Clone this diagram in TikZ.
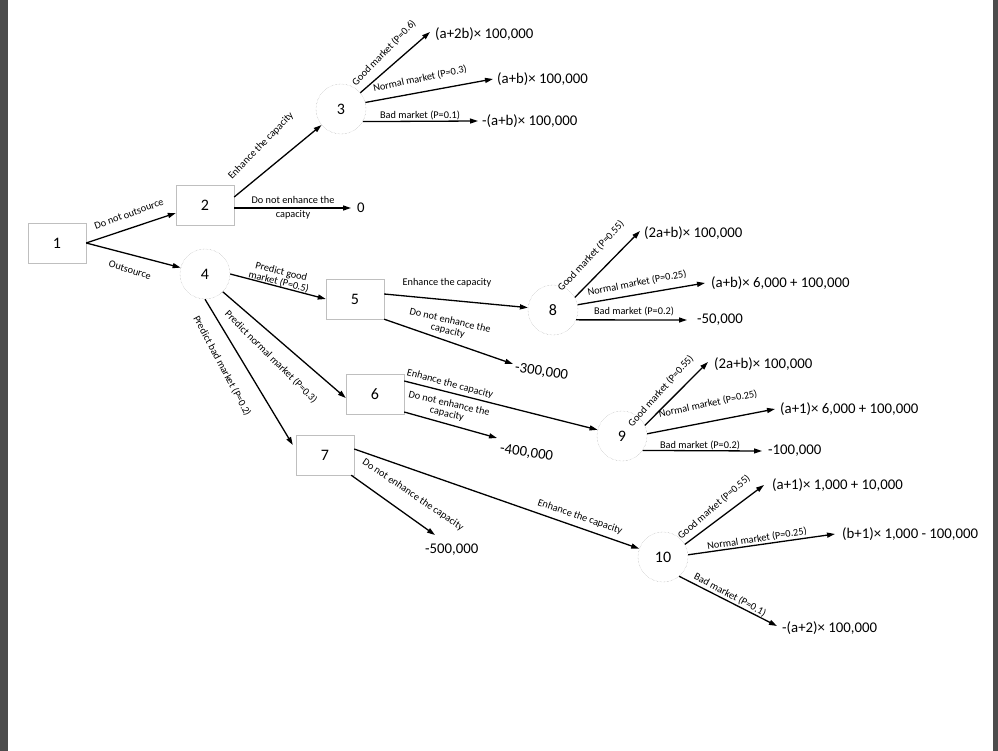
\documentclass[tikz,border=0pt]{standalone}
\usepackage{fontspec}
\setmainfont{Carlito}
\usetikzlibrary{arrows.meta}
\begin{document}
\begin{tikzpicture}[x=1pt,y=-1pt,
  boxn/.style={draw=black!25,minimum width=58pt,minimum height=40pt,font=\fontsize{16}{16}\selectfont,inner sep=0},
  circn/.style={circle,draw=black!35,densely dotted,minimum size=50pt,font=\fontsize{16}{16}\selectfont,inner sep=0},
  outc/.style={anchor=west,font=\fontsize{14.8}{14.8}\selectfont,inner sep=0},
  arr/.style={-{Triangle[length=8pt,width=5pt]},line width=1.3pt},
  lbl/.style={font=\fontsize{10.3}{10.3}\selectfont,align=center,inner sep=0}]
\useasboundingbox (0,0) rectangle (998,751);
\fill[black!70] (0,0) rectangle (8,751);
\fill[black!70] (993,0) rectangle (998,751);
% nodes
\node[boxn] (n1) at (57,243) {1};
\node[boxn] (n2) at (205,205) {2};
\node[circn] (n3) at (341,109) {3};
\node[circn] (n4) at (205,274) {4};
\node[boxn] (n5) at (355,299) {5};
\node[boxn] (n6) at (375,394) {6};
\node[boxn] (n7) at (325,455) {7};
\node[circn] (n8) at (553,310) {8};
\node[circn] (n9) at (622,436) {9};
\node[circn] (n10) at (663,557) {10};
% outcomes
\node[outc] (o0) at (357,208) {0};
\node[outc] (o31) at (435,34) {(a+2b)× 100,000};
\node[outc] (o32) at (497,79) {(a+b)× 100,000};
\node[outc] (o33) at (482,121) {-(a+b)× 100,000};
\node[outc,rotate=-8] (o5) at (515,368) {-300,000};
\node[outc,rotate=-8] (o6) at (500,449) {-400,000};
\node[outc] (o7) at (425,550) {-500,000};
\node[outc] (o81) at (644,233) {(2a+b)× 100,000};
\node[outc] (o82) at (711,283) {(a+b)× 6,000 + 100,000};
\node[outc] (o83) at (697,320) {-50,000};
\node[outc] (o91) at (714,364) {(2a+b)× 100,000};
\node[outc] (o92) at (780,409) {(a+1)× 6,000 + 100,000};
\node[outc] (o93) at (768,451) {-100,000};
\node[outc] (o101) at (772,485) {(a+1)× 1,000 + 10,000};
\node[outc] (o102) at (842,534) {(b+1)× 1,000 - 100,000};
\node[outc] (o103) at (782,628) {-(a+2)× 100,000};
\coordinate (e5) at (513,364);
\coordinate (e6) at (497,438);
\coordinate (e7) at (435,535);
\coordinate (e103) at (777,626);
% connectors
\draw[arr] (n1.east) -- ([yshift=-8pt]n2.west);
\draw[arr] (n1.east) -- (n4);
\draw[arr] ([yshift=8pt]n2.east) -- (n3);
\draw[arr] ([yshift=-3pt]n2.east) -- ([xshift=-6pt]o0.west);
\draw[arr] (n3.40) -- ([xshift=-5pt,yshift=2pt]o31.west);
\draw[arr] (n3.15) -- ([xshift=-4pt]o32.west);
\draw[arr] (n3.-30) -- ([xshift=-4pt]o33.west);
\draw[arr] (n4.east) -- (n5.west);
\draw[arr] (n4.-45) -- ([yshift=-4pt]n6.west);
\draw[arr] (n4.-90) -- ([xshift=-3pt,yshift=10pt]n7.west);
\draw[arr] ([yshift=5pt]n5.east) -- (n8);
\draw[arr] (n5.south east) -- (e5);
\draw[arr] ([yshift=13pt]n6.east) -- (n9);
\draw[arr] ([yshift=-18pt]n6.east) -- (e6);
\draw[arr] ([yshift=6pt]n7.east) -- (n10);
\draw[arr] ([xshift=-3pt]n7.south east) -- (e7);
\draw[arr] (n8.30) -- ([xshift=-4pt,yshift=2pt]o81.west);
\draw[arr] (n8.12) -- ([xshift=-6pt]o82.west);
\draw[arr] (n8.-23) -- ([xshift=-10pt]o83.west);
\draw[arr] (n9.25) -- ([xshift=-6pt,yshift=2pt]o91.west);
\draw[arr] (n9.5) -- ([xshift=-5pt]o92.west);
\draw[arr] (n9.-35) -- ([xshift=-6pt]o93.west);
\draw[arr] (n10.30) -- ([xshift=-8pt]o101.west);
\draw[arr] (n10.5) -- ([xshift=-7pt]o102.west);
\draw[arr] (n10.-50) -- (e103);
% labels
\node[lbl,rotate=20] at (129,214) {Do not outsource};
\node[lbl,rotate=-17] at (130,270) {Outsource};
\node[lbl,rotate=46] at (261,146) {Enhance the capacity};
\node[lbl] at (293,208) {Do not enhance the\\[4pt]capacity};
\node[lbl,rotate=46] at (384,53) {Good market (P=0.6)};
\node[lbl,rotate=12] at (420,79) {Normal market (P=0.3)};
\node[lbl] at (420,115) {Bad market (P=0.1)};
\node[lbl,rotate=-14] at (280,277) {Predict good\\market (P=0.5)};
\node[lbl,rotate=-45] at (271,357) {Predict normal market (P=0.3)};
\node[lbl,rotate=-62] at (222,366) {Predict bad market (P=0.2)};
\node[lbl] at (447,283) {Enhance the capacity};
\node[lbl,rotate=-13] at (449,326) {Do not enhance the\\capacity};
\node[lbl,rotate=-15] at (450,384) {Enhance the capacity};
\node[lbl,rotate=-13] at (448,409) {Do not enhance the\\capacity};
\node[lbl,rotate=-34] at (413,495) {Do not enhance the capacity};
\node[lbl,rotate=-19] at (580,517) {Enhance the capacity};
\node[lbl,rotate=47] at (591,256) {Good market (P=0.55)};
\node[lbl,rotate=11] at (637,283) {Normal market (P=0.25)};
\node[lbl] at (634,311) {Bad market (P=0.2)};
\node[lbl,rotate=48] at (661,391) {Good market (P=0.55)};
\node[lbl,rotate=12] at (708,404) {Normal market (P=0.25)};
\node[lbl] at (700,445) {Bad market (P=0.2)};
\node[lbl,rotate=41] at (714,507) {Good market (P=0.55)};
\node[lbl,rotate=9] at (757,539) {Normal market (P=0.25)};
\node[lbl,rotate=-28] at (730,595) {Bad market (P=0.1)};
\end{tikzpicture}
\end{document}
